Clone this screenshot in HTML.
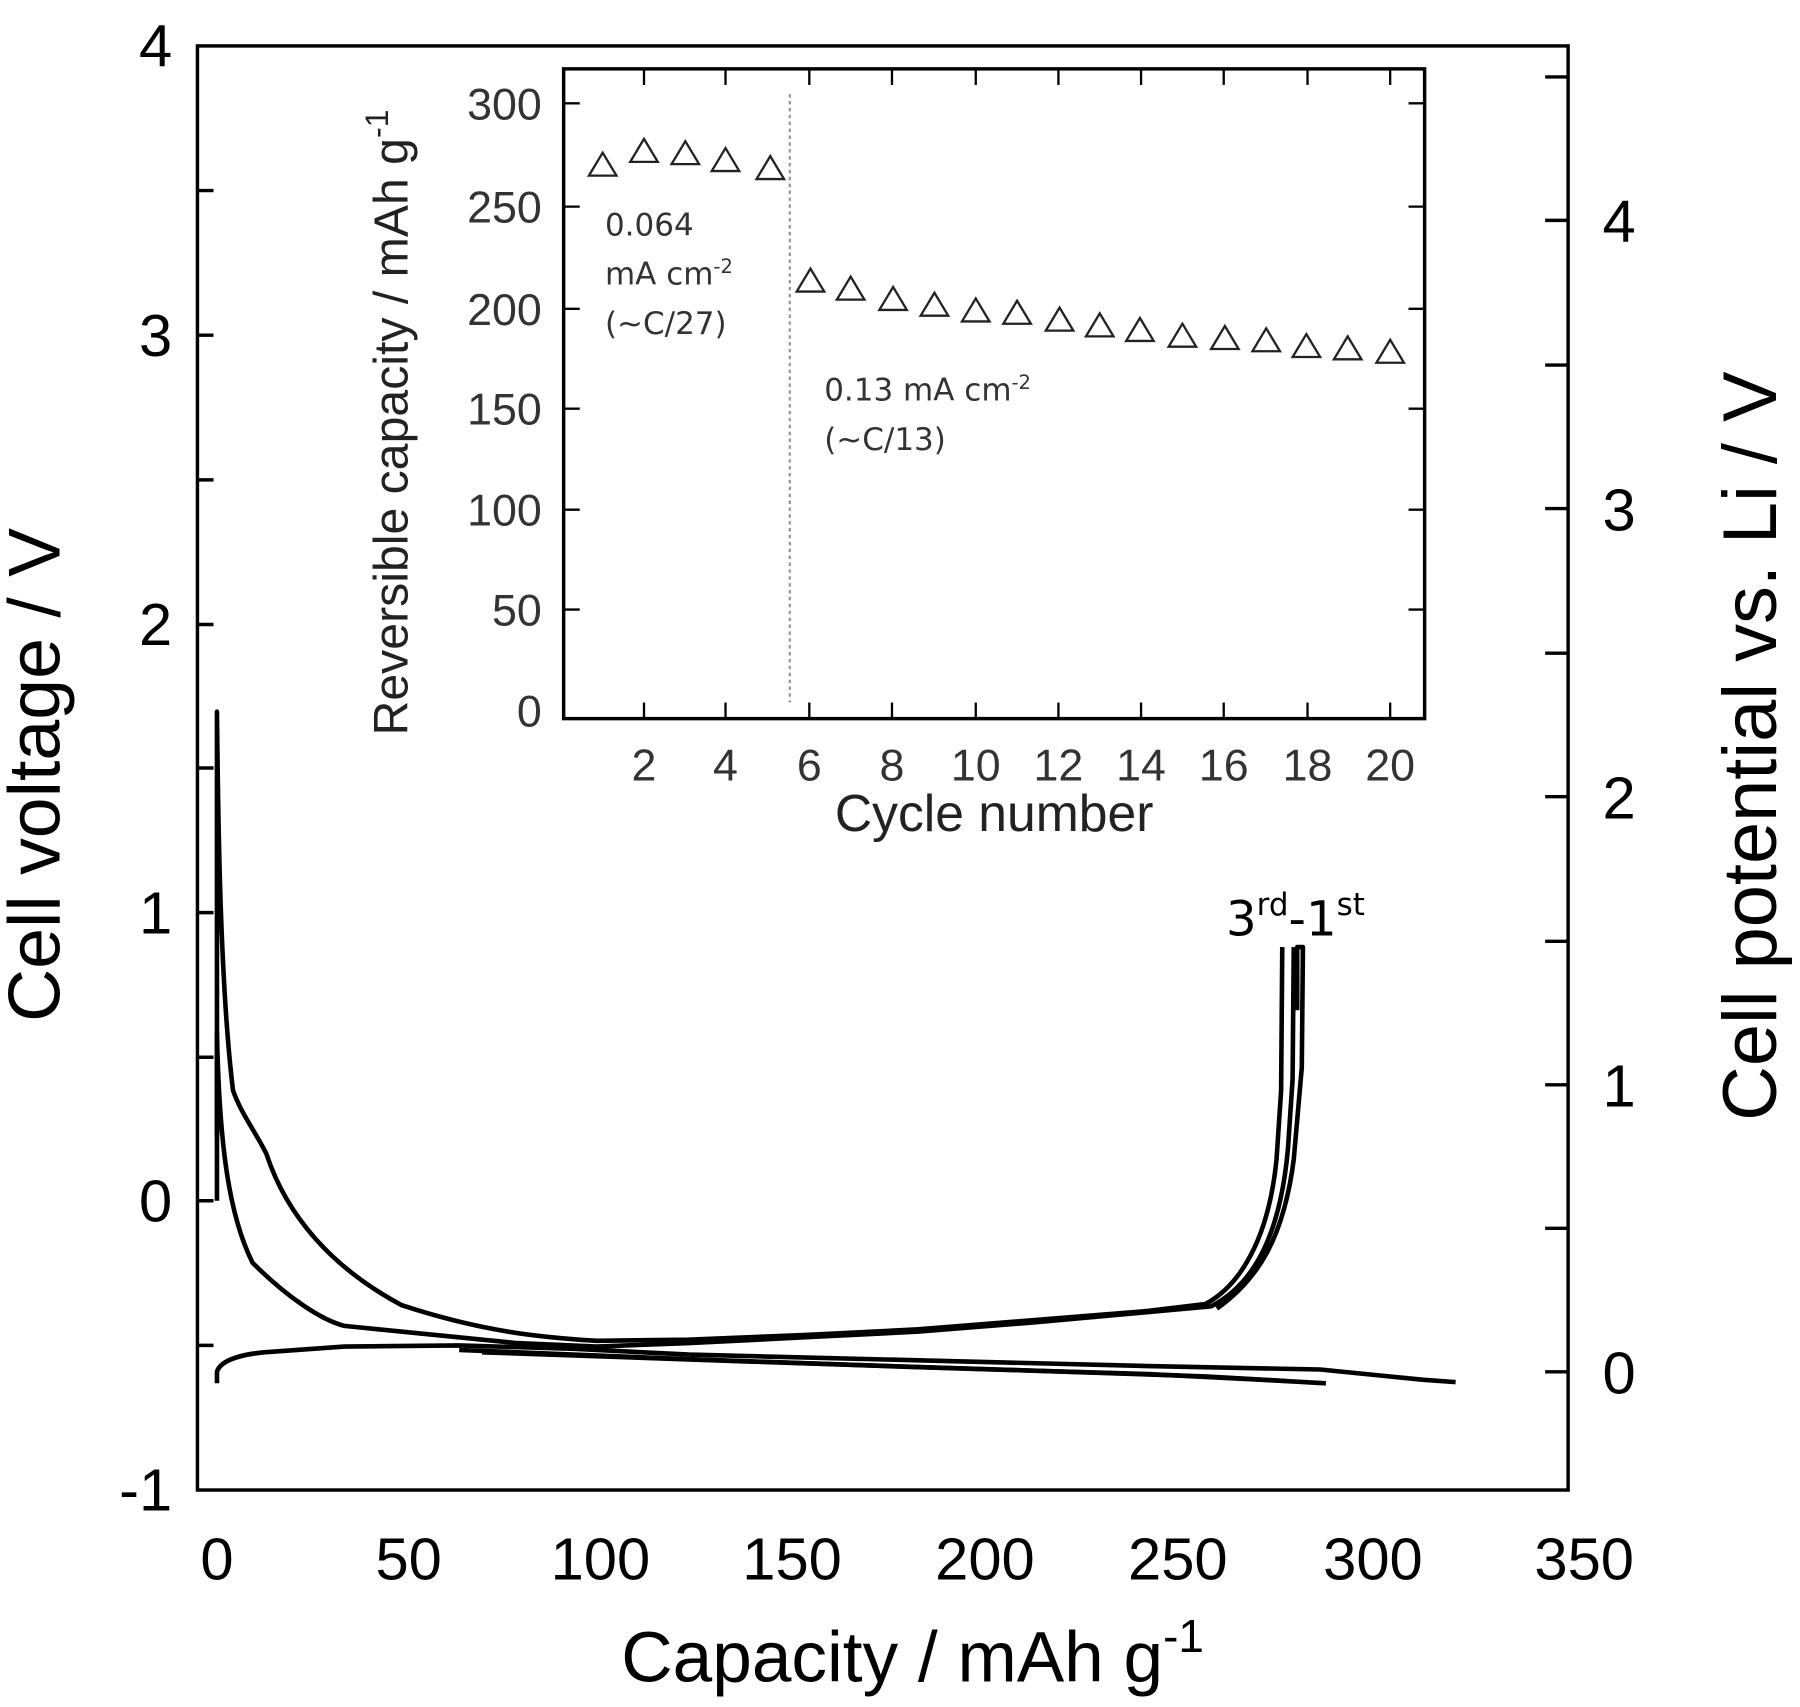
<!DOCTYPE html>
<html><head><meta charset="utf-8"><style>html,body{margin:0;padding:0;background:#fff}svg{display:block}</style></head>
<body>
<svg width="1800" height="1707" viewBox="0 0 1568 1487" preserveAspectRatio="none" xmlns="http://www.w3.org/2000/svg" font-family="Liberation Sans, sans-serif">
<rect x="0" y="0" width="1568" height="1487" fill="#fff"/>
<rect x="172" y="40" width="1194" height="1258" fill="none" stroke="#000" stroke-width="3"/>
<g stroke="#000" stroke-width="3">
<line x1="172" y1="166" x2="186" y2="166"/><line x1="172" y1="292" x2="186" y2="292"/><line x1="172" y1="418" x2="186" y2="418"/><line x1="172" y1="544" x2="186" y2="544"/><line x1="172" y1="669" x2="186" y2="669"/><line x1="172" y1="795" x2="186" y2="795"/><line x1="172" y1="921" x2="186" y2="921"/><line x1="172" y1="1046" x2="186" y2="1046"/><line x1="172" y1="1172" x2="186" y2="1172"/>
<line x1="1366" y1="67" x2="1346" y2="67"/><line x1="1366" y1="192" x2="1346" y2="192"/><line x1="1366" y1="318" x2="1346" y2="318"/><line x1="1366" y1="443" x2="1346" y2="443"/><line x1="1366" y1="569" x2="1346" y2="569"/><line x1="1366" y1="694" x2="1346" y2="694"/><line x1="1366" y1="820" x2="1346" y2="820"/><line x1="1366" y1="945" x2="1346" y2="945"/><line x1="1366" y1="1070" x2="1346" y2="1070"/><line x1="1366" y1="1195" x2="1346" y2="1195"/>
</g>
<g font-size="52" fill="#000" text-anchor="end">
<text x="150" y="58">4</text><text x="150" y="310">3</text><text x="150" y="562">2</text><text x="150" y="813">1</text><text x="150" y="1064">0</text><text x="150" y="1316">-1</text>
</g>
<g font-size="52" fill="#000" text-anchor="start">
<text x="1396" y="211">4</text><text x="1396" y="462">3</text><text x="1396" y="713">2</text><text x="1396" y="964">1</text><text x="1396" y="1214">0</text>
</g>
<g font-size="52" fill="#000" text-anchor="middle">
<text x="189" y="1376">0</text><text x="356" y="1376">50</text><text x="523" y="1376">100</text><text x="690" y="1376">150</text><text x="858" y="1376">200</text><text x="1026" y="1376">250</text><text x="1196" y="1376">300</text><text x="1380" y="1376">350</text>
</g>
<text x="795" y="1465" font-size="62" text-anchor="middle">Capacity / mAh g<tspan font-size="40" dy="-26">-1</tspan></text>
<text transform="translate(52,675) rotate(-90)" font-size="64" text-anchor="middle">Cell voltage / V</text>
<text transform="translate(1547,650) rotate(-90)" font-size="66" text-anchor="middle">Cell potential vs. Li / V</text>
<text x="1068" y="815" font-size="42" font-family="DejaVu Sans, sans-serif">3<tspan font-size="27" dy="-18">rd</tspan><tspan dy="18">-1</tspan><tspan font-size="27" dy="-18">st</tspan></text>
<g fill="none" stroke="#000" stroke-width="4" stroke-linejoin="round">
<path d="M189,1046 L189,620 C190,720 192,860 203,950 C210,970 222,985 232,1005 C250,1060 290,1105 350,1137 C420,1160 470,1165 520,1168 L600,1167 L700,1163 L800,1158 L900,1150 L1000,1142 L1050,1136 C1080,1120 1105,1080 1112,1010 L1116,950 L1117,825"/>
<path d="M189,990 L189,900 C191,1000 200,1060 220,1100 C250,1130 280,1150 300,1155 L380,1163 L450,1170 L520,1173 L600,1170 L700,1165 L800,1160 L900,1152 L1000,1143 L1055,1138 C1090,1120 1115,1080 1122,1000 L1126,940 L1127,825"/>
<path d="M1060,1140 C1095,1115 1118,1080 1127,1010 L1134,930 L1135,825 L1130,825 L1130,880"/>
<path d="M189,1205 L189,1195 C192,1185 210,1180 230,1178 L300,1173 L400,1172 L500,1175 L600,1180 L800,1185 L1000,1190 L1150,1193 L1200,1198 L1240,1202 L1268,1204"/>
<path d="M400,1176 L600,1184 L800,1191 L1000,1197 L1100,1202 L1155,1205"/>
<path d="M420,1178 L650,1186 L900,1194 L1050,1199 L1120,1203"/>
</g>
<rect x="491" y="60" width="750" height="566" fill="#fff" stroke="#000" stroke-width="3"/>
<g stroke="#000" stroke-width="2">
<line x1="491" y1="90" x2="505" y2="90"/><line x1="491" y1="180" x2="505" y2="180"/><line x1="491" y1="269" x2="505" y2="269"/><line x1="491" y1="356" x2="505" y2="356"/><line x1="491" y1="444" x2="505" y2="444"/><line x1="491" y1="531" x2="505" y2="531"/>
<line x1="1241" y1="90" x2="1227" y2="90"/><line x1="1241" y1="180" x2="1227" y2="180"/><line x1="1241" y1="269" x2="1227" y2="269"/><line x1="1241" y1="356" x2="1227" y2="356"/><line x1="1241" y1="444" x2="1227" y2="444"/><line x1="1241" y1="531" x2="1227" y2="531"/>
<line x1="561" y1="626" x2="561" y2="612"/><line x1="632" y1="626" x2="632" y2="612"/><line x1="705" y1="626" x2="705" y2="612"/><line x1="777" y1="626" x2="777" y2="612"/><line x1="850" y1="626" x2="850" y2="612"/><line x1="922" y1="626" x2="922" y2="612"/><line x1="994" y1="626" x2="994" y2="612"/><line x1="1066" y1="626" x2="1066" y2="612"/><line x1="1139" y1="626" x2="1139" y2="612"/><line x1="1211" y1="626" x2="1211" y2="612"/>
<line x1="561" y1="60" x2="561" y2="74"/><line x1="632" y1="60" x2="632" y2="74"/><line x1="705" y1="60" x2="705" y2="74"/><line x1="777" y1="60" x2="777" y2="74"/><line x1="850" y1="60" x2="850" y2="74"/><line x1="922" y1="60" x2="922" y2="74"/><line x1="994" y1="60" x2="994" y2="74"/><line x1="1066" y1="60" x2="1066" y2="74"/><line x1="1139" y1="60" x2="1139" y2="74"/><line x1="1211" y1="60" x2="1211" y2="74"/>
</g>
<line x1="688" y1="82" x2="688" y2="612" stroke="#999" stroke-width="2" stroke-dasharray="3,3"/>
<g font-size="39" fill="#333" text-anchor="end">
<text x="472" y="104">300</text><text x="472" y="194">250</text><text x="472" y="283">200</text><text x="472" y="370">150</text><text x="472" y="458">100</text><text x="472" y="545">50</text><text x="472" y="633">0</text>
</g>
<g font-size="39" fill="#333" text-anchor="middle">
<text x="561" y="680">2</text><text x="632" y="680">4</text><text x="705" y="680">6</text><text x="777" y="680">8</text><text x="850" y="680">10</text><text x="922" y="680">12</text><text x="994" y="680">14</text><text x="1066" y="680">16</text><text x="1139" y="680">18</text><text x="1211" y="680">20</text>
</g>
<text x="866" y="724" font-size="45" text-anchor="middle" fill="#222">Cycle number</text>
<text transform="translate(355,368) rotate(-90)" font-size="42" text-anchor="middle" fill="#222">Reversible capacity / mAh g<tspan font-size="28" dy="-17">-1</tspan></text>
<g font-size="27" fill="#333" font-family="DejaVu Sans, sans-serif">
<text x="527" y="205">0.064</text>
<text x="527" y="248">mA cm<tspan font-size="17" dy="-10">-2</tspan></text>
<text x="527" y="291"><tspan dy="0">(~C/27)</tspan></text>
<text x="718" y="349">0.13 mA cm<tspan font-size="17" dy="-10">-2</tspan></text>
<text x="718" y="392">(~C/13)</text>
</g>
<g fill="none" stroke="#222" stroke-width="2">
<path d="M525,133 l-12,20 h24 z"/><path d="M561,121 l-12,20 h24 z"/><path d="M597,123 l-12,20 h24 z"/><path d="M632,129 l-12,20 h24 z"/><path d="M671,136 l-12,20 h24 z"/>
<path d="M706,234 l-12,20 h24 z"/><path d="M741,241 l-12,20 h24 z"/><path d="M778,250 l-12,20 h24 z"/><path d="M814,255 l-12,20 h24 z"/><path d="M850,260 l-12,20 h24 z"/><path d="M886,262 l-12,20 h24 z"/><path d="M923,268 l-12,20 h24 z"/><path d="M958,273 l-12,20 h24 z"/><path d="M993,277 l-12,20 h24 z"/><path d="M1030,282 l-12,20 h24 z"/><path d="M1067,284 l-12,20 h24 z"/><path d="M1103,286 l-12,20 h24 z"/><path d="M1138,291 l-12,20 h24 z"/><path d="M1174,293 l-12,20 h24 z"/><path d="M1211,296 l-12,20 h24 z"/>
</g>
</svg>
</body></html>
